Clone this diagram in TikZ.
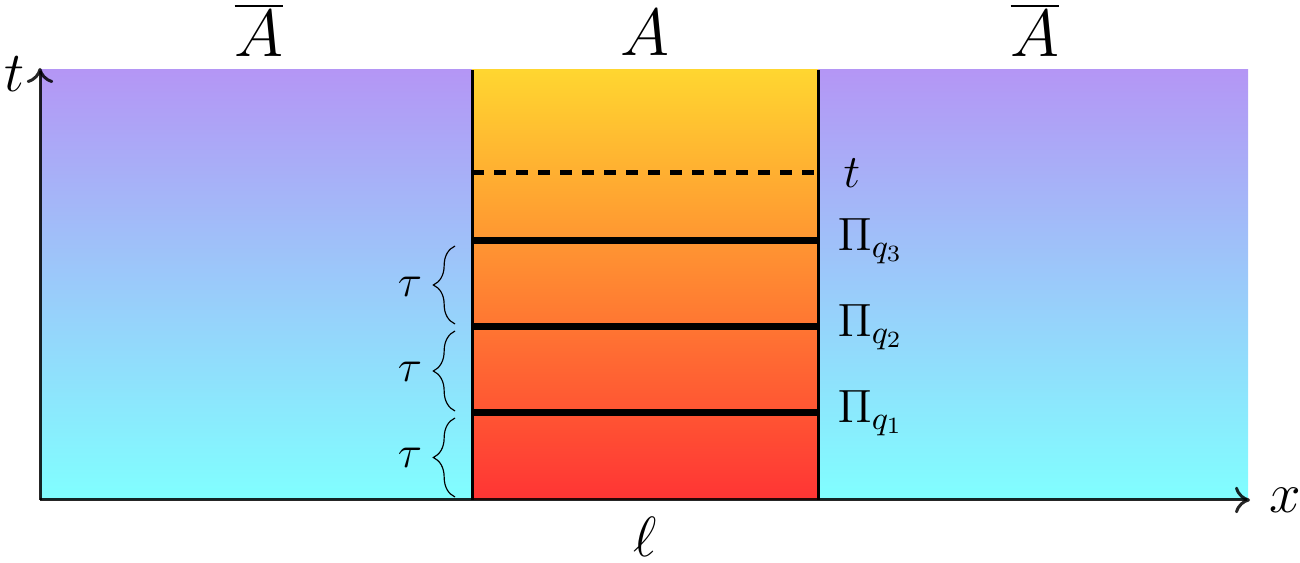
\documentclass[tikz,border=0pt]{standalone}
\usepackage{fix-cm}
\usetikzlibrary{decorations.pathreplacing,arrows.meta}
\definecolor{bgtop}{RGB}{180,150,245}
\definecolor{bgbot}{RGB}{128,255,255}
\definecolor{ctop}{RGB}{255,214,48}
\definecolor{cbot}{RGB}{255,52,52}
\begin{document}
\begin{tikzpicture}[x=0.3pt,y=-0.3pt,
  axis/.style={line width=0.9pt,-{To[length=4.5pt,width=8pt]},draw opacity=0.85},
  wall/.style={line width=0.9pt,black},
  level/.style={line width=2.1pt,black},
  dashlevel/.style={line width=1.5pt,black,dash pattern=on 3.6pt off 3pt},
  bracestyle/.style={line width=0.35pt,decorate,decoration={brace,amplitude=6.5pt}},
  biglab/.style={font=\fontsize{20}{24}\selectfont,inner sep=0pt},
  axlab/.style={font=\fontsize{17}{20}\selectfont,inner sep=0pt},
  pilab/.style={font=\fontsize{14}{17}\selectfont,inner sep=0pt,anchor=west},
  taulab/.style={font=\fontsize{13.5}{16}\selectfont,inner sep=0pt}]
\useasboundingbox (0,0) rectangle (1300,563);
\shade[top color=bgtop,bottom color=bgbot] (40,70) rectangle (1248,500);
\shade[top color=ctop,bottom color=cbot] (472,70) rectangle (818,500);
% axes
\coordinate (O) at (40,500);
\coordinate (X) at (1250,500);
\coordinate (T) at (40,68);
\draw[axis] (O) -- (X);
\draw[axis] (O) -- (T);
% walls
\coordinate (WLt) at (472,70); \coordinate (WLb) at (472,500);
\coordinate (WRt) at (818,70); \coordinate (WRb) at (818,500);
\draw[wall] (WLt) -- (WLb);
\draw[wall] (WRt) -- (WRb);
% levels
\coordinate (Ld) at (472,173); \coordinate (Rd) at (818,173);
\coordinate (L3) at (472,241); \coordinate (R3) at (818,241);
\coordinate (L2) at (472,327); \coordinate (R2) at (818,327);
\coordinate (L1) at (472,413); \coordinate (R1) at (818,413);
\draw[dashlevel] (Ld) -- (Rd);
\draw[level] (L3) -- (R3);
\draw[level] (L2) -- (R2);
\draw[level] (L1) -- (R1);
% right labels
\node[pilab] (tl) at ([xshift=7.5pt]Rd) {$t$};
\node[pilab] (p3) at ([xshift=5.7pt]R3) {$\Pi_{q_3}$};
\node[pilab] (p2) at ([xshift=5.7pt]R2) {$\Pi_{q_2}$};
\node[pilab] (p1) at ([xshift=5.7pt]R1) {$\Pi_{q_1}$};
% braces
\coordinate (B1b) at (455,497); \coordinate (B1t) at (455,418);
\coordinate (B2b) at (455,411); \coordinate (B2t) at (455,331);
\coordinate (B3b) at (455,324); \coordinate (B3t) at (455,246);
\draw[bracestyle] (B1b) -- (B1t);
\draw[bracestyle] (B2b) -- (B2t);
\draw[bracestyle] (B3b) -- (B3t);
\node[taulab] (tau1) at (410,458) {$\tau$};
\node[taulab] (tau2) at (410,372) {$\tau$};
\node[taulab] (tau3) at (410,287) {$\tau$};
% top labels
\node[biglab] (Abl) at (259,30) {$\overline{A}$};
\node[biglab] (Ac) at (645,33) {$A$};
\node[biglab] (Abr) at (1035,30) {$\overline{A}$};
% axis labels
\node[axlab] (tax) at (15,74) {$t$};
\node[axlab] (xax) at (1285,500) {$x$};
\node[axlab] (ell) at (645,537) {$\ell$};
\end{tikzpicture}
\end{document}
